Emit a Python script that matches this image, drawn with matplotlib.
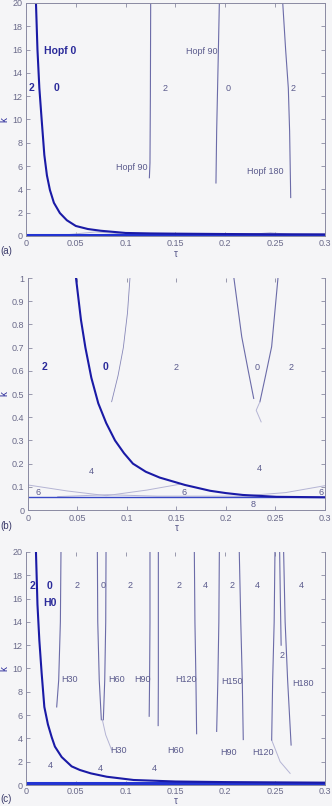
import matplotlib.pyplot as plt

plt.rcParams["font.family"] = ["Liberation Sans", "DejaVu Sans"]

# ---------------- panel (a) ----------------
a_main_tau = [0.010, 0.0115, 0.0134, 0.0157, 0.0184, 0.021, 0.024, 0.028, 0.034, 0.041, 0.05,
              0.062, 0.075, 0.1, 0.125, 0.15, 0.2, 0.25, 0.3]
a_main_k = [20, 16, 12.7, 10, 6.95, 5.2, 3.95, 2.85, 1.97, 1.35, 0.86,
            0.6, 0.45, 0.26, 0.22, 0.2, 0.17, 0.15, 0.14]
a_base_tau = [0.0, 0.3]
a_base_k = [0.08, 0.08]
a_bump1_tau = [0.04, 0.07, 0.11]
a_bump1_k = [0.1, 0.35, 0.1]
a_bump2_tau = [0.22, 0.245, 0.27]
a_bump2_k = [0.1, 0.28, 0.1]
a_l1_tau = [0.1251, 0.1248, 0.1244, 0.1238]
a_l1_k = [20, 12, 6.3, 5.0]
a_l2_tau = [0.1940, 0.1928, 0.1913, 0.1906]
a_l2_k = [20, 15, 9, 4.55]
a_l3_tau = [0.2576, 0.2605, 0.2632, 0.2645, 0.2656]
a_l3_k = [20, 16, 12.7, 9, 3.3]

a_bold_text = ["Hopf 0", "2", "0"]
a_bold_tau = [0.0346, 0.0057, 0.031]
a_bold_k = [15.9, 12.7, 12.7]
a_thin_text = ["2", "0", "2", "Hopf 90", "Hopf 90", "Hopf 180"]
a_thin_tau = [0.140, 0.203, 0.2676, 0.1925, 0.1215, 0.240]
a_thin_k = [12.7, 12.7, 12.7, 15.8, 5.86, 5.5]
a_thin_ha = ["center", "center", "center", "right", "right", "center"]

# ---------------- panel (b) ----------------
b_main_tau = [0.0485, 0.051, 0.0535, 0.058, 0.064, 0.071, 0.079, 0.0879, 0.097, 0.106, 0.119,
              0.133, 0.1586, 0.184, 0.2, 0.217, 0.251, 0.3]
b_main_k = [1.0, 0.91, 0.82, 0.70, 0.57, 0.46, 0.375, 0.30, 0.245, 0.20, 0.165,
            0.14, 0.108, 0.083, 0.073, 0.065, 0.057, 0.055]
b_flat_tau = [0.0, 0.3]
b_flat_k = [0.055, 0.055]
b_vee_tau = [0.0, 0.04, 0.079, 0.12, 0.153]
b_vee_k = [0.108, 0.082, 0.062, 0.086, 0.111]
b_right_tau = [0.22, 0.26, 0.3]
b_right_k = [0.062, 0.075, 0.105]
b_low_tau = [0.03, 0.08, 0.13, 0.2, 0.24]
b_low_k = [0.058, 0.066, 0.06, 0.06, 0.058]
b_c1_tau = [0.103, 0.1005, 0.0963, 0.091, 0.0845]
b_c1_k = [1.0, 0.85, 0.70, 0.58, 0.467]
b_vl_tau = [0.2080, 0.2159, 0.2225, 0.2280]
b_vl_k = [1.0, 0.747, 0.6, 0.481]
b_vr_tau = [0.2525, 0.2461, 0.2400, 0.2343]
b_vr_k = [1.0, 0.704, 0.58, 0.467]
b_zig_tau = [0.2343, 0.2305, 0.2355]
b_zig_k = [0.467, 0.43, 0.38]

b_bold_text = ["2", "0"]
b_bold_tau = [0.0165, 0.0785]
b_bold_k = [0.615, 0.615]
b_thin_text = ["2", "0", "2", "4", "4", "6", "6", "6", "8"]
b_thin_tau = [0.150, 0.231, 0.2657, 0.0636, 0.2333, 0.0098, 0.158, 0.2957, 0.227]
b_thin_k = [0.615, 0.615, 0.615, 0.165, 0.18, 0.076, 0.075, 0.076, 0.024]

# ---------------- panel (c) ----------------
c_main_tau = [0.010, 0.0115, 0.0134, 0.0157, 0.0184, 0.022, 0.0258, 0.029, 0.0358, 0.0458, 0.054,
              0.065, 0.081, 0.108, 0.15, 0.2, 0.3]
c_main_k = [20, 15.5, 12.4, 9.6, 6.7, 5.2, 4.1, 3.3, 2.4, 1.6, 1.29,
            1.0, 0.71, 0.43, 0.3, 0.25, 0.2]
c_base_tau = [0.0, 0.3]
c_base_k = [0.15, 0.15]
c_lines_tau = [
    [0.0351, 0.0345, 0.0328, 0.0308],
    [0.0716, 0.0720, 0.0735, 0.0756],
    [0.0803, 0.0800, 0.0790, 0.0776],
    [0.1244, 0.1244, 0.1240, 0.1236],
    [0.1328, 0.1328, 0.1328, 0.1326],
    [0.1689, 0.1695, 0.1705, 0.1712],
    [0.1940, 0.1935, 0.1925, 0.1913],
    [0.2140, 0.2155, 0.2170, 0.2180],
    [0.2498, 0.2490, 0.2475, 0.2465],
    [0.2585, 0.2600, 0.2625, 0.2660],
    [0.2545, 0.2552, 0.2560],
]
c_lines_k = [
    [20, 14, 9, 6.7],
    [20, 14, 9, 5.6],
    [20, 14, 9, 5.6],
    [20, 14, 9, 5.9],
    [20, 14, 9, 5.1],
    [20, 14, 9, 4.4],
    [20, 14, 9, 4.6],
    [20, 14, 9, 3.9],
    [20, 14, 9, 3.86],
    [20, 14, 9, 3.43],
    [20, 16, 12],
]
c_faint_tau = [
    [0.0766, 0.080, 0.086],
    [0.2465, 0.255, 0.265],
]
c_faint_k = [
    [5.6, 4.3, 3.0],
    [3.86, 2.0, 1.0],
]

c_bold_text = ["2", "0", "H0"]
c_bold_tau = [0.0064, 0.024, 0.0245]
c_bold_k = [17.1, 17.1, 15.6]
c_thin_text = ["2", "0", "2", "2", "4", "2", "4", "4", "2",
               "H30", "H60", "H90", "H120", "H150", "H180",
               "H30", "H60", "H90", "H120", "4", "4", "4"]
c_thin_tau = [0.0508, 0.0769, 0.104, 0.1538, 0.1796, 0.2064, 0.2321, 0.2766, 0.2565,
              0.0441, 0.091, 0.117, 0.161, 0.2064, 0.2776,
              0.0926, 0.150, 0.203, 0.238, 0.024, 0.0742, 0.1284]
c_thin_k = [17.1, 17.1, 17.1, 17.1, 17.1, 17.1, 17.1, 17.1, 11.1,
            9.06, 9.06, 9.06, 9.06, 8.86, 8.7,
            3.0, 3.0, 2.77, 2.77, 1.71, 1.43, 1.43]

BG = "#f5f5f7"
THICK = "#1a1aa6"
BASE = "#2234d2"
THIN = "#6b6ba8"
FAINT = "#b4b4d4"
SPINE = "#8a8aa2"
TICKC = "#6a6a8a"
BOLDC = "#2a2a9a"
THINC = "#5a5a8c"


def style_axes(ax, ylim, yticks, yticklabels, hide_top=False, xpad=0.5, tpad=2.5):
    ax.set_facecolor(BG)
    ax.set_xlim(0, 0.3)
    ax.set_ylim(*ylim)
    ax.set_xticks([0, 0.05, 0.1, 0.15, 0.2, 0.25, 0.3])
    ax.set_xticklabels(["0", "0.05", "0.1", "0.15", "0.2", "0.25", "0.3"])
    ax.set_yticks(yticks)
    ax.set_yticklabels(yticklabels)
    ax.tick_params(direction="in", length=3, width=0.6, colors=SPINE,
                   labelcolor=TICKC, labelsize=6.5, top=True, right=True, pad=2.5)
    ax.tick_params(axis="x", pad=tpad)
    for name, sp in ax.spines.items():
        sp.set_color(SPINE)
        sp.set_linewidth(0.7)
    if hide_top:
        ax.spines["top"].set_visible(False)
    ax.set_xlabel("τ", fontsize=7, color=THINC, labelpad=xpad)
    ax.set_ylabel("k", fontsize=7, color=BOLDC, labelpad=2)


def put_texts(ax, texts, taus, ks, bold, ha=None):
    for i, t in enumerate(texts):
        h = ha[i] if ha else "center"
        if bold:
            ax.text(taus[i], ks[i], t, fontsize=7.5, fontweight="bold", color=BOLDC,
                    ha=h, va="center")
        else:
            ax.text(taus[i], ks[i], t, fontsize=6.5, color=THINC, ha=h, va="center")


fig = plt.figure(figsize=(3.32, 8.06), dpi=100, facecolor=BG)

# (a)
ax_a = fig.add_axes([0.0783, 0.7072, 0.9006, 0.2891])
ax_a.plot(a_bump1_tau, a_bump1_k, color=FAINT, lw=0.7)
ax_a.plot(a_bump2_tau, a_bump2_k, color=FAINT, lw=0.7)
ax_a.plot(a_l1_tau, a_l1_k, color=THIN, lw=0.8)
ax_a.plot(a_l2_tau, a_l2_k, color=THIN, lw=0.8)
ax_a.plot(a_l3_tau, a_l3_k, color=THIN, lw=0.8)
ax_a.plot(a_base_tau, a_base_k, color=BASE, lw=2.2)
ax_a.plot(a_main_tau, a_main_k, color=THICK, lw=1.5)
style_axes(ax_a, (0, 20), list(range(0, 21, 2)), [str(v) for v in range(0, 21, 2)])
put_texts(ax_a, a_bold_text, a_bold_tau, a_bold_k, True)
put_texts(ax_a, a_thin_text, a_thin_tau, a_thin_k, False, a_thin_ha)

# (b)
ax_b = fig.add_axes([0.0843, 0.3672, 0.8946, 0.2878])
ax_b.plot(b_vee_tau, b_vee_k, color=FAINT, lw=0.7)
ax_b.plot(b_right_tau, b_right_k, color=FAINT, lw=0.7)
ax_b.plot(b_low_tau, b_low_k, color=FAINT, lw=0.7)
ax_b.plot(b_c1_tau, b_c1_k, color=THIN, lw=0.6, alpha=0.8)
ax_b.plot(b_vl_tau, b_vl_k, color=THIN, lw=0.8)
ax_b.plot(b_vr_tau, b_vr_k, color=THIN, lw=0.8)
ax_b.plot(b_zig_tau, b_zig_k, color=FAINT, lw=0.7)
ax_b.plot(b_flat_tau, b_flat_k, color="#3848c8", lw=1.0)
ax_b.plot(b_main_tau, b_main_k, color=THICK, lw=1.5)
b_ticks = [round(0.1 * i, 1) for i in range(11)]
b_labels = ["0"] + [str(v) for v in b_ticks[1:-1]] + ["1"]
style_axes(ax_b, (0, 1), b_ticks, b_labels, hide_top=True)
put_texts(ax_b, b_bold_text, b_bold_tau, b_bold_k, True)
put_texts(ax_b, b_thin_text, b_thin_tau, b_thin_k, False)

# (c)
ax_c = fig.add_axes([0.0783, 0.02605, 0.9006, 0.2891])
for tt, kk in zip(c_faint_tau, c_faint_k):
    ax_c.plot(tt, kk, color=FAINT, lw=0.7)
for tt, kk in zip(c_lines_tau, c_lines_k):
    ax_c.plot(tt, kk, color=THIN, lw=0.8)
ax_c.plot(c_base_tau, c_base_k, color=BASE, lw=2.2)
ax_c.plot(c_main_tau, c_main_k, color=THICK, lw=1.5)
style_axes(ax_c, (0, 20), list(range(0, 21, 2)), [str(v) for v in range(0, 21, 2)],
           hide_top=True, xpad=0.0, tpad=1.5)
put_texts(ax_c, c_bold_text, c_bold_tau, c_bold_k, True)
put_texts(ax_c, c_thin_text, c_thin_tau, c_thin_k, False)

# panel tags
fig.text(0.0, 1 - 251 / 806, "(a)", fontsize=7, color="#3a3a6a", va="center")
fig.text(0.0, 1 - 526 / 806, "(b)", fontsize=7, color="#3a3a6a", va="center")
fig.text(0.0, 1.5 / 806, "(c)", fontsize=7, color="#3a3a6a", va="bottom")

fig.savefig("out.png", dpi=100, facecolor=BG)
plt.close(fig)
